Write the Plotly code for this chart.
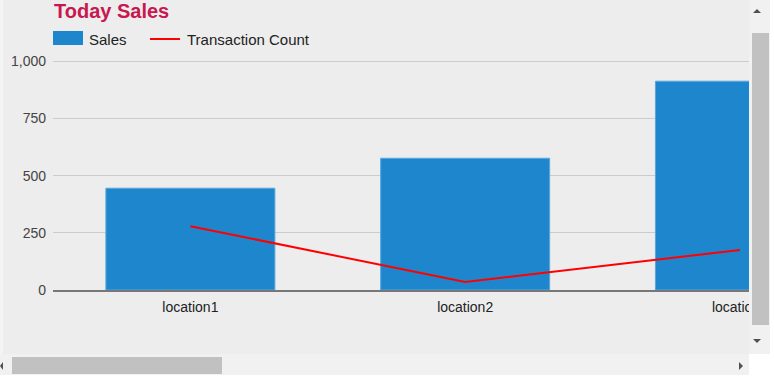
import plotly.graph_objects as go

# ---- data ----
categories = ["location1", "location2", "location3"]
sales = [445, 576, 913]
transaction_count = [279, 35, 175]
y_ticks = [0, 250, 500, 750, 1000]

W, H = 774, 379
L, R = 53, 749          # plot area left/right in px
T, B = 59, 290          # plot area top/bottom in px

def px(x):  # pixel x -> paper x
    return (x - L) / (R - L)

def py(y):  # pixel y -> paper y
    return (B - y) / (B - T)

FONT = "Arial, Liberation Sans, sans-serif"
BG = "#ededed"

fig = go.Figure()
fig.add_trace(go.Bar(
    x=categories, y=sales, name="Sales",
    marker=dict(color="#1e86cd", line=dict(color="#5aa6dc", width=1)),
))
fig.add_trace(go.Scatter(
    x=categories, y=transaction_count, name="Transaction Count",
    mode="lines", line=dict(color="#ff0000", width=2),
))

shapes = []
def rect(x0, y0, x1, y1, color):
    shapes.append(dict(type="rect", xref="paper", yref="paper",
                       x0=px(x0), x1=px(x1), y0=py(y1), y1=py(y0),
                       fillcolor=color, line=dict(width=0), layer="above"))

def tri(points, color="#505050"):
    d = "M " + " L ".join(f"{px(a)},{py(b)}" for a, b in points) + " Z"
    shapes.append(dict(type="path", xref="paper", yref="paper", path=d,
                       fillcolor=color, line=dict(width=0), layer="above"))

# left light strip
rect(0, 0, 3, 354, "#f4f4f4")
# vertical scrollbar
rect(749, 0, 774, 379, "#ffffff")
rect(749, 0, 770, 354, "#f1f1f1")
rect(752, 33, 769, 325, "#c1c1c1")
tri([(753, 13), (761, 13), (757, 9)])
tri([(753, 339), (761, 339), (757, 343)])
# horizontal scrollbar
rect(0, 375, 774, 379, "#ffffff")
rect(0, 354, 749, 375, "#f1f1f1")
rect(12, 357, 222, 374, "#c1c1c1")
tri([(3, 362), (3, 370), (0, 366)])
tri([(739, 362), (739, 370), (743, 366)])

# custom legend
shapes.append(dict(type="rect", xref="paper", yref="paper",
                   x0=px(53), x1=px(83), y0=py(45), y1=py(31),
                   fillcolor="#1e86cd", line=dict(width=0)))
shapes.append(dict(type="line", xref="paper", yref="paper",
                   x0=px(150), x1=px(180), y0=py(39), y1=py(39),
                   line=dict(color="#ff0000", width=2)))

annotations = [
    dict(text="<b>Today Sales</b>", xref="paper", yref="paper",
         x=px(52), y=py(11), xanchor="left", yanchor="middle", showarrow=False,
         font=dict(family=FONT, size=20, color="#c8174f")),
    dict(text="Sales", xref="paper", yref="paper",
         x=px(87), y=py(39), xanchor="left", yanchor="middle", showarrow=False,
         font=dict(family=FONT, size=15, color="#222222")),
    dict(text="Transaction Count", xref="paper", yref="paper",
         x=px(185), y=py(39), xanchor="left", yanchor="middle", showarrow=False,
         font=dict(family=FONT, size=15, color="#222222")),
]

fig.update_layout(
    width=W, height=H,
    margin=dict(l=L, r=W - R, t=T, b=H - B, pad=0, autoexpand=False),
    paper_bgcolor=BG, plot_bgcolor=BG,
    showlegend=False,
    bargap=0.385,
    font=dict(family=FONT, size=14, color="#444444"),
    shapes=shapes, annotations=annotations,
    xaxis=dict(range=[-0.5, 2.033], showgrid=False, showline=True,
               linecolor="#777777", linewidth=2, ticks="", automargin=False,
               ticklabelstandoff=3,
               tickfont=dict(size=14, color="#222222"), fixedrange=True),
    yaxis=dict(range=[0, 1010], tickvals=y_ticks, tickformat=",",
               showgrid=True, gridcolor="#cccccc", gridwidth=1,
               zeroline=False, showline=False, ticks="", automargin=False,
               ticklabelstandoff=6,
               tickfont=dict(size=14, color="#444444"), fixedrange=True),
)

fig.write_html("out.html", config={"displayModeBar": False},
               post_script="document.body.style.margin='0';document.body.style.overflow='hidden';")
